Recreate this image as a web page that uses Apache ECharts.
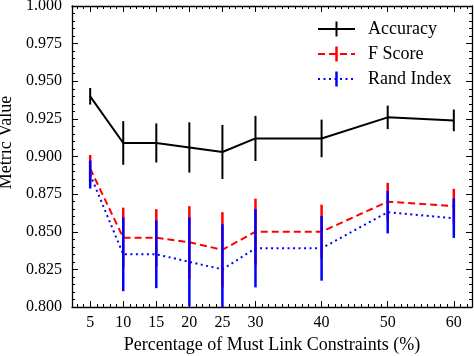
<!DOCTYPE html>
<html><head><meta charset="utf-8">
<script src="https://cdn.jsdelivr.net/npm/echarts@6/dist/echarts.min.js"></script>
<style>html,body{margin:0;padding:0;background:#fff}#c{width:474px;height:356px}</style>
</head><body><div id="c"></div>
<script>
const xValues = [5, 10, 15, 20, 25, 30, 40, 50, 60];
const accuracy = [0.940, 0.909, 0.909, 0.906, 0.903, 0.912, 0.912, 0.926, 0.924];
const accuracyErr = [0.0055, 0.0145, 0.013, 0.0167, 0.018, 0.015, 0.0125, 0.0078, 0.0072];
const fScore = [0.892, 0.846, 0.846, 0.843, 0.838, 0.850, 0.850, 0.870, 0.867];
const fScoreErr = [0.009, 0.020, 0.019, 0.024, 0.025, 0.022, 0.018, 0.0125, 0.0115];
const randIndex = [0.888, 0.835, 0.835, 0.830, 0.825, 0.839, 0.839, 0.863, 0.859];
const randIndexErr = [0.0093, 0.0245, 0.0225, 0.0295, 0.030, 0.026, 0.0215, 0.0141, 0.0131];
const yTicks = [0.800, 0.825, 0.850, 0.875, 0.900, 0.925, 0.950, 0.975, 1.000];
const legendNames = ['Accuracy', 'F Score', 'Rand Index'];
const xMinorTicks = [];
for (let v = 3; v <= 62; v++) xMinorTicks.push(v);

const FONT = 'Liberation Serif';
const chart = echarts.init(document.getElementById('c'), null, {renderer: 'canvas'});

function lineData(vals) { return xValues.map((x, i) => [x, vals[i]]); }
function errData(vals, errs) { return xValues.map((x, i) => [x, vals[i] - errs[i], vals[i] + errs[i]]); }
function errSeries(name, vals, errs, color, width, z) {
  return {
    type: 'custom', name: name + ' err', clip: true, z: z, silent: true,
    data: errData(vals, errs),
    encode: {x: 0, y: [1, 2]},
    renderItem: function (params, api) {
      const p1 = api.coord([api.value(0), api.value(1)]);
      const p2 = api.coord([api.value(0), api.value(2)]);
      return {type: 'line', shape: {x1: p1[0], y1: p1[1], x2: p2[0], y2: p2[1]},
        style: {stroke: color, lineWidth: width}};
    }
  };
}
function lineSeries(name, vals, color, type, width, z) {
  return {
    type: 'line', name: name, data: lineData(vals), z: z,
    symbol: 'none', showSymbol: false,
    itemStyle: {color: color},
    lineStyle: {color: color, width: width, type: type},
    animation: false, silent: true
  };
}

const styles = [
  {color: '#000', type: 'solid', dash: null},
  {color: '#ff0000', type: [7, 4], dash: [7, 4]},
  {color: '#0000ff', type: [2, 3.5], dash: [2, 3.5]}
];

// legend (drawn as graphic: line with an error-bar tick, plus label)
const legendGraphics = [];
const legY = [29, 54, 79];
legendNames.forEach((n, i) => {
  const st = styles[i];
  legendGraphics.push({type: 'line', shape: {x1: 318, y1: legY[i], x2: 355, y2: legY[i]},
    style: {stroke: st.color, lineWidth: 2, lineDash: st.dash}, z: 100});
  legendGraphics.push({type: 'line', shape: {x1: 336.5, y1: legY[i] - 7.5, x2: 336.5, y2: legY[i] + 7.5},
    style: {stroke: st.color, lineWidth: i === 0 ? 2 : 2.5}, z: 100});
  legendGraphics.push({type: 'text', x: 368, y: legY[i],
    style: {text: n, fill: '#000', font: '18px "Liberation Serif"', textVerticalAlign: 'middle', verticalAlign: 'middle'}, z: 100});
});

const xBase = {type: 'value', min: 2.25, max: 62.75, gridIndex: 0, splitLine: {show: false}};
const yBase = {type: 'value', min: 0.8, max: 1.0, interval: 0.025, splitLine: {show: false}};

chart.setOption({
  animation: false,
  grid: {left: 72, right: 2, top: 6, bottom: 49, containLabel: false, outerBoundsMode: 'none'},
  xAxis: [
    Object.assign({}, xBase, {
      position: 'bottom',
      axisLine: {show: true, onZero: false, lineStyle: {color: '#000', width: 1.3}},
      axisTick: {show: true, inside: true, length: 6, customValues: xValues, lineStyle: {color: '#000', width: 1}},
      axisLabel: {show: true, customValues: xValues, color: '#000', fontFamily: FONT, fontSize: 16, margin: 8},
      name: 'Percentage of Must Link Constraints (%)', nameLocation: 'middle', nameGap: 26,
      nameTextStyle: {color: '#000', fontFamily: FONT, fontSize: 18}
    }),
    Object.assign({}, xBase, {
      position: 'bottom',
      axisLine: {show: false},
      axisTick: {show: true, inside: true, length: 3, customValues: xMinorTicks, lineStyle: {color: '#000', width: 1}},
      axisLabel: {show: false}
    }),
    Object.assign({}, xBase, {
      position: 'top',
      axisLine: {show: true, onZero: false, lineStyle: {color: '#000', width: 1.3}},
      axisTick: {show: true, inside: true, length: 6, customValues: xValues, lineStyle: {color: '#000', width: 1}},
      axisLabel: {show: false}
    }),
    Object.assign({}, xBase, {
      position: 'top',
      axisLine: {show: false},
      axisTick: {show: true, inside: true, length: 3, customValues: xMinorTicks, lineStyle: {color: '#000', width: 1}},
      axisLabel: {show: false}
    })
  ],
  yAxis: [
    Object.assign({}, yBase, {
      position: 'left',
      axisLine: {show: true, onZero: false, lineStyle: {color: '#000', width: 1.3}},
      axisTick: {show: true, inside: true, length: 6, lineStyle: {color: '#000', width: 1}},
      minorTick: {show: true, splitNumber: 5, length: 3, lineStyle: {color: '#000', width: 1}},
      axisLabel: {show: true, color: '#000', fontFamily: FONT, fontSize: 16, margin: 10,
        formatter: v => v.toFixed(3)},
      name: 'Metric Value', nameLocation: 'middle', nameGap: 51,
      nameTextStyle: {color: '#000', fontFamily: FONT, fontSize: 18, padding: [0, 0, 0, 28]}
    }),
    Object.assign({}, yBase, {
      position: 'right',
      axisLine: {show: true, onZero: false, lineStyle: {color: '#000', width: 1.3}},
      axisTick: {show: true, inside: true, length: 6, lineStyle: {color: '#000', width: 1}},
      minorTick: {show: true, splitNumber: 5, length: 3, lineStyle: {color: '#000', width: 1}},
      axisLabel: {show: false}
    })
  ],
  graphic: legendGraphics,
  series: [
    errSeries('Accuracy', accuracy, accuracyErr, styles[0].color, 2, 2),
    lineSeries('Accuracy', accuracy, styles[0].color, styles[0].type, 2, 3),
    errSeries('F Score', fScore, fScoreErr, styles[1].color, 2.5, 4),
    lineSeries('F Score', fScore, styles[1].color, styles[1].type, 2, 5),
    errSeries('Rand Index', randIndex, randIndexErr, styles[2].color, 2.5, 6),
    lineSeries('Rand Index', randIndex, styles[2].color, styles[2].type, 2, 7)
  ]
});
</script></body></html>
